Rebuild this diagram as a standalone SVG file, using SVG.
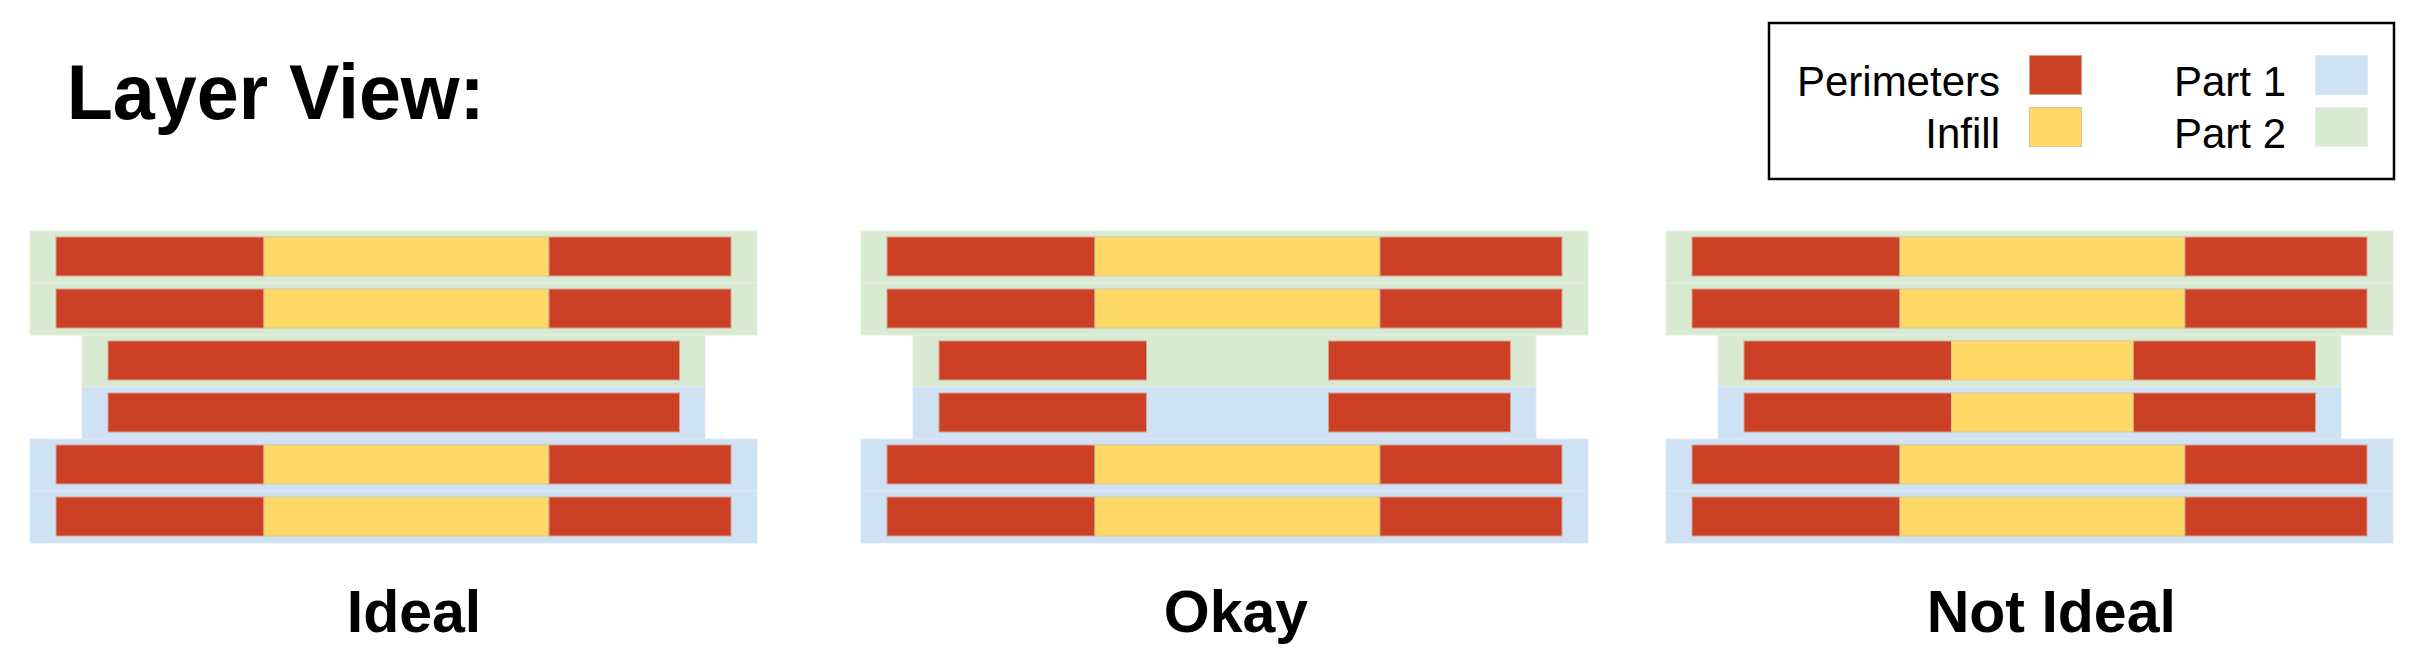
<svg xmlns="http://www.w3.org/2000/svg" xmlns:xlink="http://www.w3.org/1999/xlink" width="2411" height="656" viewBox="0 0 2411 656">
<style>
.t{font-family:"Liberation Sans",Arial,sans-serif;fill:#000}
.b{font-weight:bold}
.p{fill:#CC4125;stroke:#d9a092;stroke-width:1}
.f{fill:#FFD966;stroke:#d6c7a0;stroke-width:1}
.g{fill:#D9EAD3;stroke:#e6f1e2;stroke-width:1}
.u{fill:#CFE2F3;stroke:#dde9f5;stroke-width:1}
</style>
<defs>
<g id="full">
<rect class="p" x="56" y="0" width="208" height="39"/>
<rect class="f" x="264" y="0" width="285" height="39"/>
<rect class="p" x="549" y="0" width="182" height="39"/>
</g>
</defs>
<rect width="2411" height="656" fill="#fff"/>
<text class="t b" x="66.7" y="119.3" font-size="78" textLength="418" lengthAdjust="spacingAndGlyphs">Layer View:</text>

<g id="legend">
<rect x="1769" y="23" width="625" height="156" fill="#fff" stroke="#000" stroke-width="2.5"/>
<text class="t" x="2000" y="96" font-size="42" text-anchor="end">Perimeters</text>
<text class="t" x="2000" y="147.7" font-size="42" text-anchor="end">Infill</text>
<rect class="p" x="2029.5" y="55.5" width="52" height="39"/>
<rect class="f" x="2029.5" y="107.5" width="52" height="39"/>
<text class="t" x="2174" y="96" font-size="42">Part 1</text>
<text class="t" x="2174" y="147.7" font-size="42">Part 2</text>
<rect class="u" x="2315.5" y="55.5" width="52" height="39"/>
<rect class="g" x="2315.5" y="107.5" width="52" height="39"/>
</g>

<g id="ideal">
<rect class="g" x="30" y="231" width="727" height="52"/>
<rect class="g" x="30" y="283" width="727" height="52"/>
<rect class="g" x="82" y="335" width="623" height="52"/>
<rect class="u" x="82" y="387" width="623" height="52"/>
<rect class="u" x="30" y="439" width="727" height="52"/>
<rect class="u" x="30" y="491" width="727" height="52"/>
<use xlink:href="#full" y="237"/>
<use xlink:href="#full" y="289"/>
<rect class="p" x="108" y="341" width="571.5" height="39"/>
<rect class="p" x="108" y="393" width="571.5" height="39"/>
<use xlink:href="#full" y="445"/>
<use xlink:href="#full" y="497"/>
<text class="t b" x="414" y="632" font-size="59" text-anchor="middle">Ideal</text>
</g>

<g id="okay" transform="translate(831,0)">
<rect class="g" x="30" y="231" width="727" height="52"/>
<rect class="g" x="30" y="283" width="727" height="52"/>
<rect class="g" x="82" y="335" width="623" height="52"/>
<rect class="u" x="82" y="387" width="623" height="52"/>
<rect class="u" x="30" y="439" width="727" height="52"/>
<rect class="u" x="30" y="491" width="727" height="52"/>
<use xlink:href="#full" y="237"/>
<use xlink:href="#full" y="289"/>
<rect class="p" x="108" y="341" width="207.5" height="39"/>
<rect class="p" x="497.5" y="341" width="182" height="39"/>
<rect class="p" x="108" y="393" width="207.5" height="39"/>
<rect class="p" x="497.5" y="393" width="182" height="39"/>
<use xlink:href="#full" y="445"/>
<use xlink:href="#full" y="497"/>
<text class="t b" x="405" y="632" font-size="59" text-anchor="middle">Okay</text>
</g>

<g id="not-ideal" transform="translate(1636,0)">
<rect class="g" x="30" y="231" width="727" height="52"/>
<rect class="g" x="30" y="283" width="727" height="52"/>
<rect class="g" x="82" y="335" width="623" height="52"/>
<rect class="u" x="82" y="387" width="623" height="52"/>
<rect class="u" x="30" y="439" width="727" height="52"/>
<rect class="u" x="30" y="491" width="727" height="52"/>
<use xlink:href="#full" y="237"/>
<use xlink:href="#full" y="289"/>
<rect class="p" x="108" y="341" width="207.5" height="39"/>
<rect class="f" x="315.5" y="341" width="182" height="39"/>
<rect class="p" x="497.5" y="341" width="182" height="39"/>
<rect class="p" x="108" y="393" width="207.5" height="39"/>
<rect class="f" x="315.5" y="393" width="182" height="39"/>
<rect class="p" x="497.5" y="393" width="182" height="39"/>
<use xlink:href="#full" y="445"/>
<use xlink:href="#full" y="497"/>
<text class="t b" x="415.3" y="632" font-size="59" text-anchor="middle">Not Ideal</text>
</g>
</svg>
